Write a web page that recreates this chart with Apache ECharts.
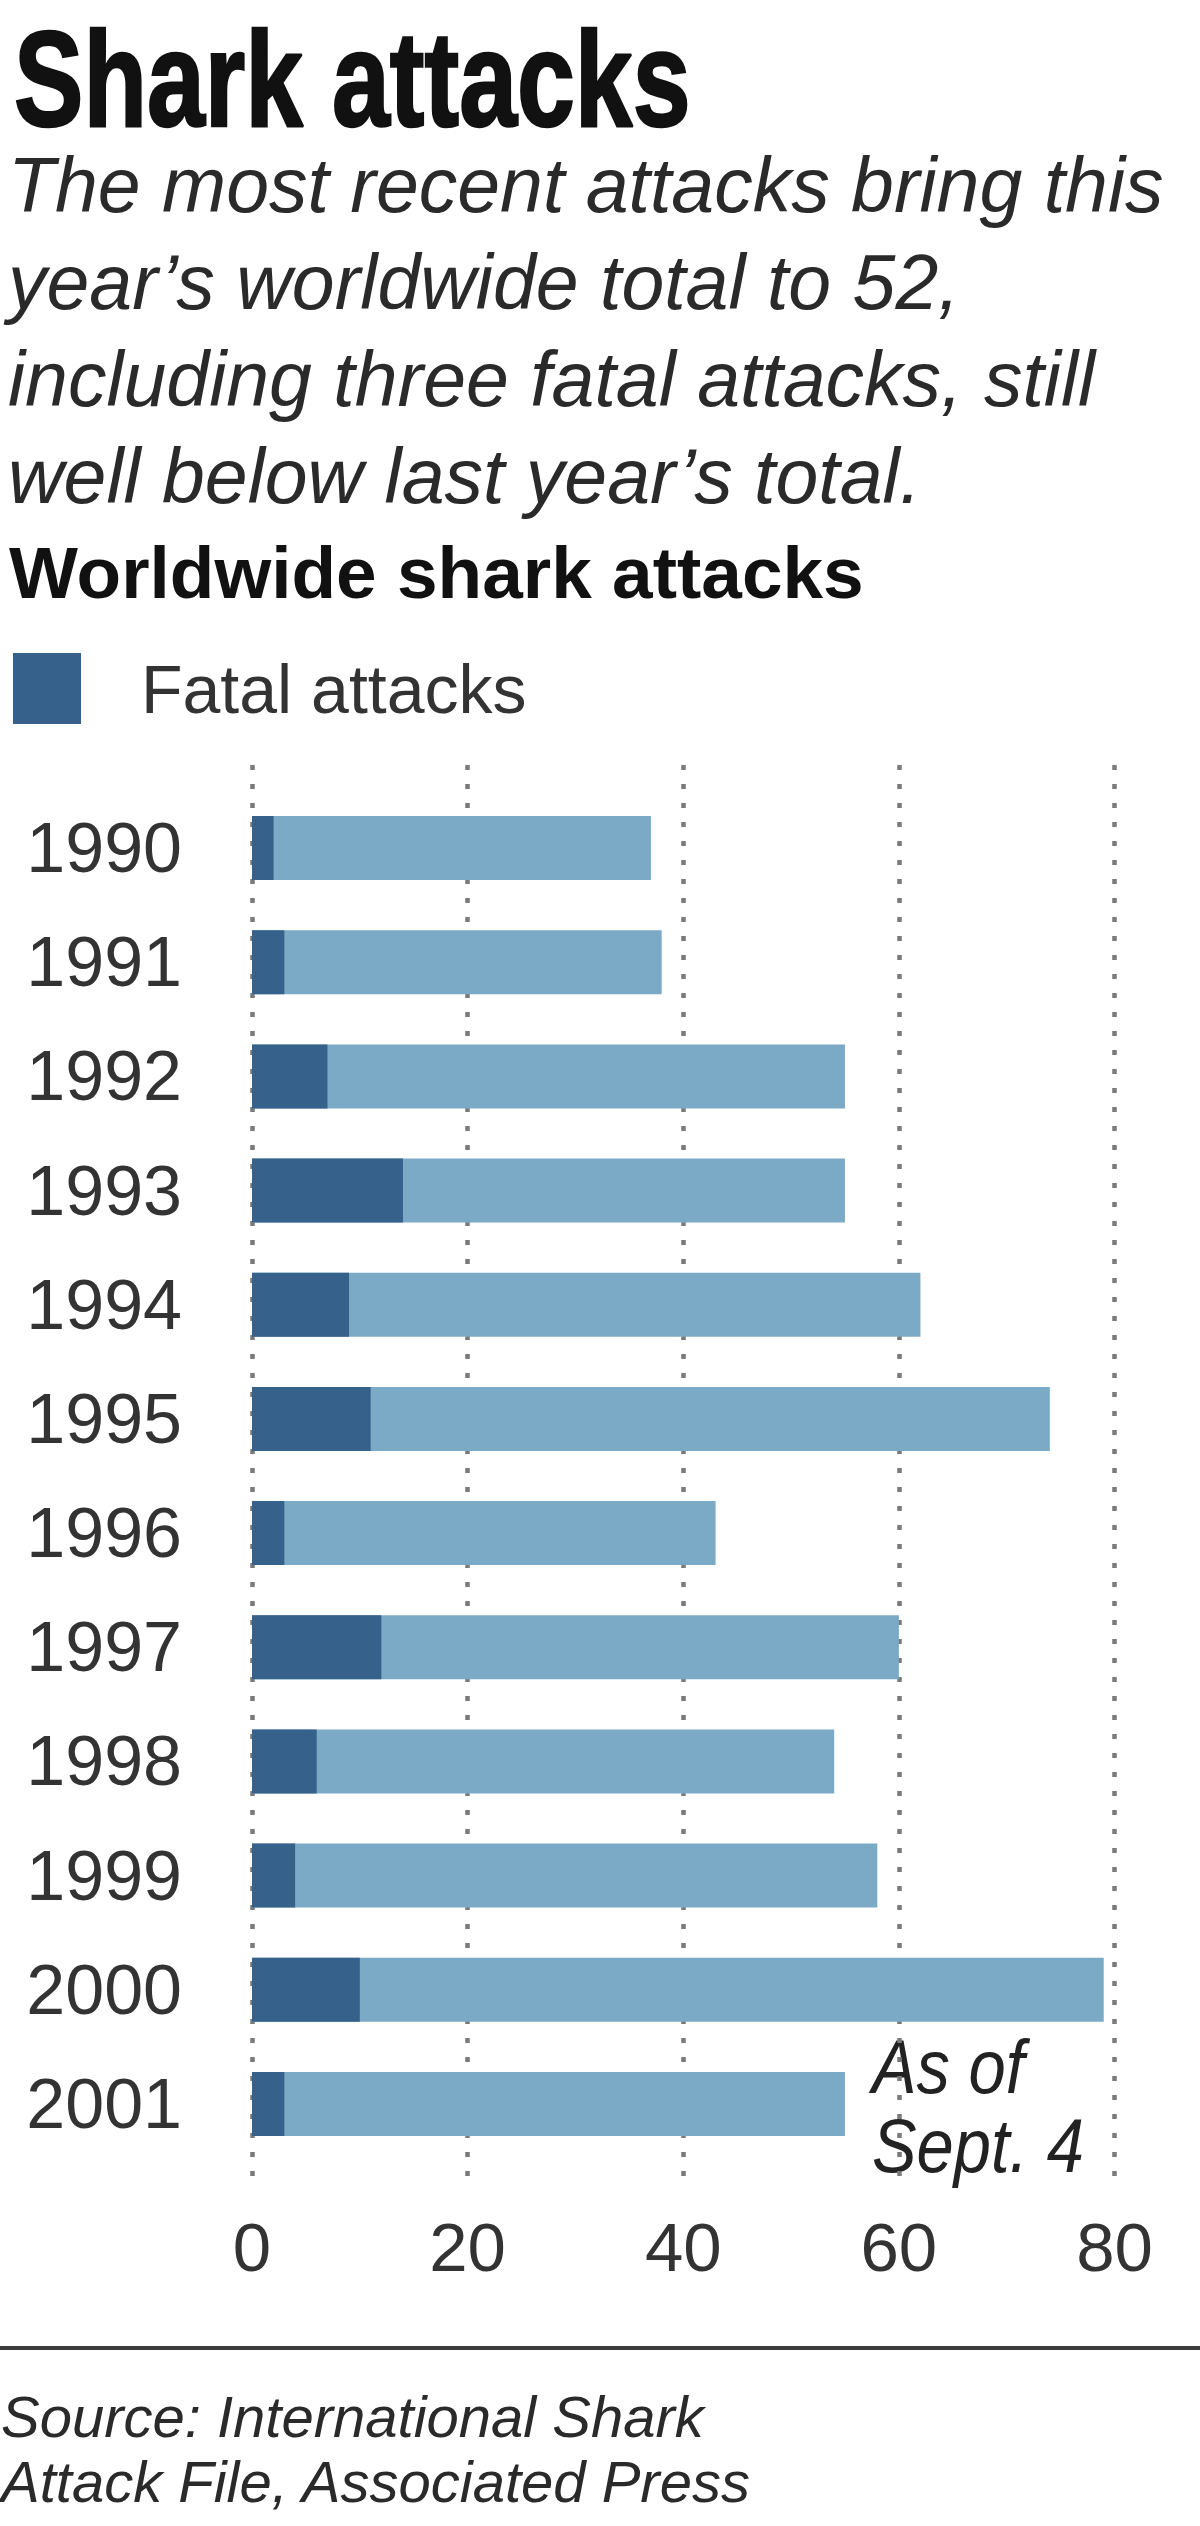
<!DOCTYPE html>
<html>
<head>
<meta charset="utf-8">
<script src="https://cdn.jsdelivr.net/npm/echarts@6/dist/echarts.min.js"></script>
<style>
html,body{margin:0;padding:0;background:#fff;}
#chart{width:1200px;height:2526px;}
</style>
</head>
<body>
<div id="chart"></div>
<script>
var years = ['1990','1991','1992','1993','1994','1995','1996','1997','1998','1999','2000','2001'];
var totalAttacks = [37, 38, 55, 55, 62, 74, 43, 60, 54, 58, 79, 55];
var fatalAttacks = [2, 3, 7, 14, 9, 11, 3, 12, 6, 4, 10, 3];
var xTicks = [0, 20, 40, 60, 80];

var titleText = 'Shark attacks';
var subtitleLines = [
  'The most recent attacks bring this',
  'year\u2019s worldwide total to 52,',
  'including three fatal attacks, still',
  'well below last year\u2019s total.'
];
var headingText = 'Worldwide shark attacks';
var noteLines = ['As of', 'Sept. 4'];
var sourceLines = ['Source: International Shark', 'Attack File, Associated Press'];

var FONT = "'Liberation Sans', Arial, sans-serif";
var chart = echarts.init(document.getElementById('chart'), null, {renderer: 'svg'});

var option = {
  backgroundColor: '#ffffff',
  animation: false,
  legend: {
    data: ['Fatal attacks'],
    left: 8,
    top: 648,
    itemWidth: 68,
    itemHeight: 71,
    icon: 'rect',
    textStyle: {
      fontFamily: FONT,
      fontSize: 68,
      color: '#333',
      padding: [0, 0, 0, 55]
    }
  },
  grid: [
    {left: 252, right: 85.5, top: 791, bottom: 365},
    {left: 252, right: 85.5, top: 765, bottom: 339}
  ],
  xAxis: [
    {gridIndex: 0, type: 'value', min: 0, max: 80, interval: 20, show: false},
    {
      gridIndex: 1, type: 'value', min: xTicks[0], max: xTicks[xTicks.length - 1], interval: 20,
      axisLine: {show: false}, axisTick: {show: false},
      axisLabel: {fontFamily: FONT, fontSize: 69, color: '#333', margin: 26},
      splitLine: {show: true, lineStyle: {type: [5, 14], width: 4.5, color: '#7a7a7a'}}
    }
  ],
  yAxis: [
    {
      gridIndex: 0, type: 'category', data: years, inverse: true,
      axisLine: {show: false}, axisTick: {show: false},
      axisLabel: {fontFamily: FONT, fontSize: 70, color: '#333', margin: 70}
    },
    {gridIndex: 1, type: 'value', min: 0, max: 1, show: false}
  ],
  series: [
    {
      name: 'Total attacks', type: 'bar', xAxisIndex: 0, yAxisIndex: 0,
      data: totalAttacks, barWidth: 64,
      itemStyle: {color: '#7baac7'}
    },
    {
      name: 'Fatal attacks', type: 'bar', xAxisIndex: 0, yAxisIndex: 0,
      data: fatalAttacks, barWidth: 64, barGap: '-100%',
      itemStyle: {color: '#36618a'}
    }
  ],
  graphic: [
    {
      type: 'text', x: 14, y: 79, scaleX: 0.765,
      style: {text: titleText, font: '900 136px ' + FONT, fill: '#111',
              stroke: '#111', lineWidth: 2.5,
              textAlign: 'left', textVerticalAlign: 'middle', verticalAlign: 'middle'}
    },
    {
      type: 'text', x: 8, y: 136.5,
      style: {text: subtitleLines.join('\n'), font: 'italic 77px ' + FONT, fill: '#2a2a2a',
              lineHeight: 97, textAlign: 'left', textVerticalAlign: 'top', verticalAlign: 'top'}
    },
    {
      type: 'text', x: 9, y: 572,
      style: {text: headingText, font: 'bold 73px ' + FONT, fill: '#111',
              textAlign: 'left', textVerticalAlign: 'middle', verticalAlign: 'middle'}
    },
    {
      type: 'text', x: 872, y: 2026.5, scaleX: 0.88,
      style: {text: noteLines.join('\n'), font: 'italic 76px ' + FONT, fill: '#222',
              lineHeight: 79, textAlign: 'left', textVerticalAlign: 'top', verticalAlign: 'top'}
    },
    {
      type: 'line', shape: {x1: 0, y1: 2348, x2: 1200, y2: 2348},
      style: {stroke: '#3a3a3a', lineWidth: 4}
    },
    {
      type: 'text', x: 1, y: 2383.5,
      style: {text: sourceLines.join('\n'), font: 'italic 58px ' + FONT, fill: '#2a2a2a',
              lineHeight: 65, textAlign: 'left', textVerticalAlign: 'top', verticalAlign: 'top'}
    }
  ]
};
chart.setOption(option);
</script>
</body>
</html>
